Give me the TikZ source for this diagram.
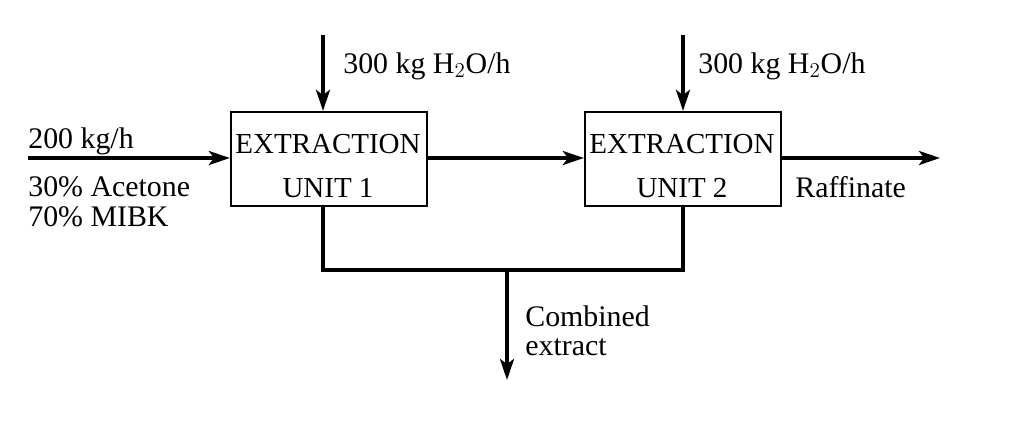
\documentclass[tikz,border=0pt]{standalone}
\usepackage{fontspec}
\setmainfont{Liberation Serif}
\usetikzlibrary{arrows.meta}
\begin{document}
\begin{tikzpicture}[x=0.02cm,y=-0.02cm,
  ln/.style={line width=2pt},
  ar/.style={line width=2pt,-{Stealth[length=12pt,width=8pt,inset=3pt]}},
  unit/.style={draw,line width=1.3pt,minimum width=3.92cm,minimum height=1.88cm,align=center,font=\fontsize{16.5}{19}\selectfont,inner sep=0pt},
  lab/.style={anchor=west,font=\fontsize{17}{19}\selectfont,inner sep=0pt}]
\useasboundingbox (0,0) rectangle (1024,427);
\node[unit] (u1) at (329,159) {};
\node[unit] (u2) at (683,159) {};
\node[unit,draw=none,minimum width=0pt,minimum height=0pt] (u1t) at (328,166) {EXTRACTION\\[6pt]UNIT 1};
\node[unit,draw=none,minimum width=0pt,minimum height=0pt] (u2t) at (682,166) {EXTRACTION\\[6pt]UNIT 2};
\coordinate (t1) at (323,35);
\coordinate (t2) at (683,35);
\coordinate (f) at (28,158);
\coordinate (r) at (940,158);
\coordinate (b1) at (323,270);
\coordinate (b2) at (683,270);
\coordinate (bm) at (507,270);
\coordinate (ce) at (507,380);
\draw[ar] (t1) -- (t1 |- u1.north);
\draw[ar] (t2) -- (t2 |- u2.north);
\draw[ar] (f) -- (u1.west |- f);
\draw[ar] (u1.east |- f) -- (u2.west |- f);
\draw[ar] (u2.east |- r) -- (r);
\draw[ln] (b1 |- u1.south) -- (b1) -- (b2) -- (b2 |- u2.south);
\draw[ar] (bm) -- (ce);
\node[lab] (w1) at (343,66) {300 kg H$_2$O/h};
\node[lab] (w2) at (698,66) {300 kg H$_2$O/h};
\node[lab] (fa) at (28,141) {200 kg/h};
\node[lab] (fb) at (28,187) {30\% Acetone};
\node[lab] (fc) at (28,217) {70\% MIBK};
\node[lab] (ra) at (795,187) {Raffinate};
\node[lab] (ca) at (525,316) {Combined};
\node[lab] (cb) at (525,347) {extract};
\end{tikzpicture}
\end{document}
